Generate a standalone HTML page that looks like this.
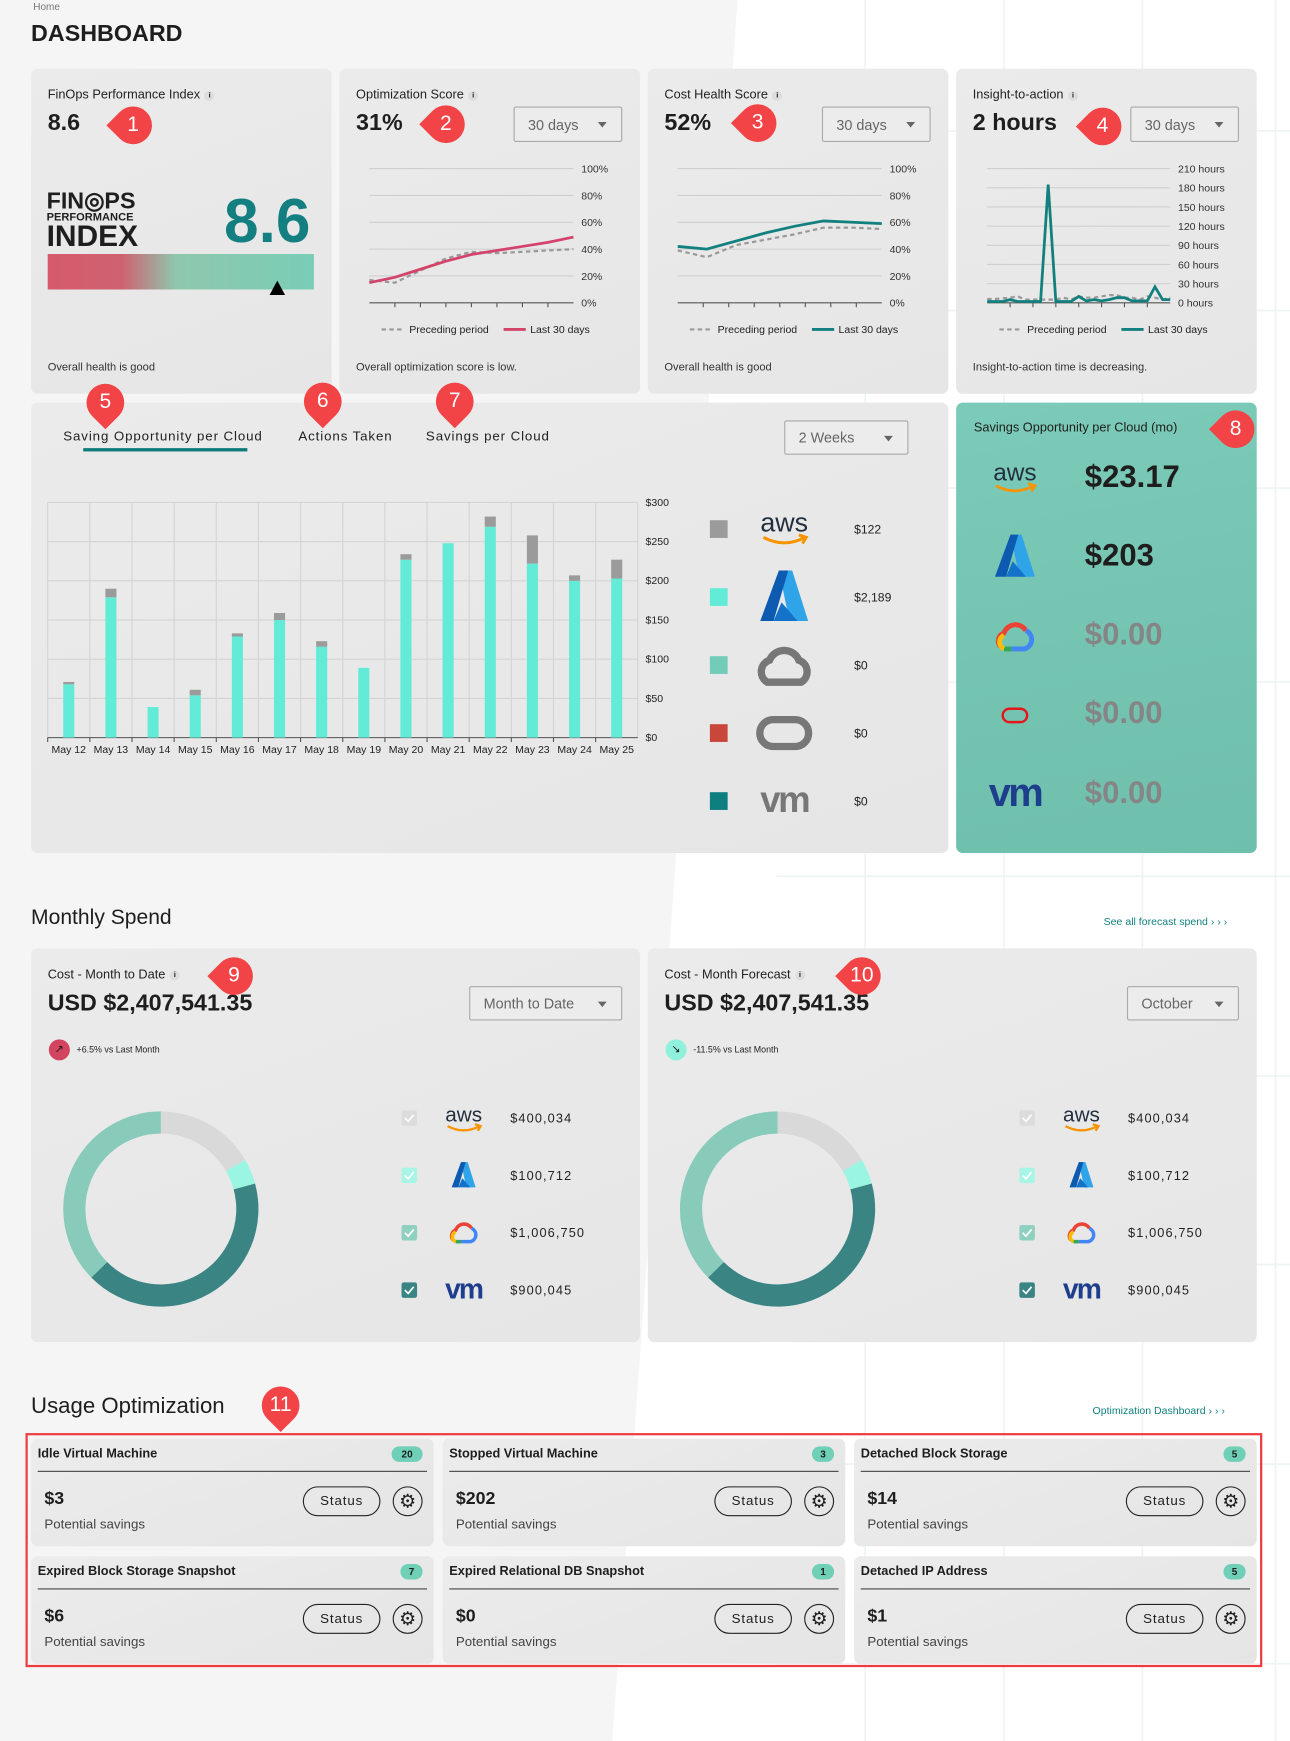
<!DOCTYPE html>
<html><head><meta charset="utf-8">
<style>
*{box-sizing:border-box;margin:0;padding:0}
html,body{width:1290px;height:1741px;overflow:hidden;background:#fff;font-family:"Liberation Sans",sans-serif;color:#1e1e1e}
#frame{position:absolute;left:0;top:0;width:1163px;height:1570px;transform:scale(1.1092);transform-origin:0 0}
.abs{position:absolute}
.card{position:absolute;background:linear-gradient(160deg,#ebebeb,#e6e6e6);border-radius:6px}
.t12{font-size:11.5px;color:#222}
.info{display:inline-block;width:9px;height:9px;border-radius:50%;background:#ddd;font-size:7px;text-align:center;line-height:9px;font-weight:bold;vertical-align:1px;margin-left:4px}
.big{font-size:21px;font-weight:bold}
.dd{position:absolute;border:1px solid #a9a9a9;border-radius:2px;font-size:13px;color:#666;padding-left:12px;display:flex;align-items:center;background:#ececec}
.dd:after{content:"";position:absolute;right:13px;top:50%;margin-top:-2px;border-left:4px solid transparent;border-right:4px solid transparent;border-top:5px solid #666}
.foot{position:absolute;font-size:10px;color:#333}
.mk{position:absolute;width:34px;height:34px;background:#f24447;border-radius:50% 50% 50% 0;color:#fff}
.mk span{position:absolute;left:0;top:0;width:34px;height:34px;line-height:34px;text-align:center;font-size:19px}
.ml{transform:rotate(45deg)}.ml span{transform:rotate(-45deg)}
.md{transform:rotate(-45deg)}.md span{transform:rotate(45deg)}
.tab{position:absolute;font-size:12px;letter-spacing:.8px;color:#222}
.tile{position:absolute;width:363px;height:97px;background:linear-gradient(160deg,#ececec,#e5e5e5);border-radius:6px}
.tile .tt{position:absolute;left:6px;top:8px;font-size:11.5px;font-weight:bold}
.tile .bd{position:absolute;top:7px;height:14px;border-radius:7px;background:#6fcfb7;font-size:9px;font-weight:bold;text-align:center;line-height:14px}
.tile .ln{position:absolute;left:6px;right:6px;top:29px;border-top:1px solid #444}
.tile .amt{position:absolute;left:12px;top:46px;font-size:16px;font-weight:bold}
.tile .ps{position:absolute;left:12px;top:70px;font-size:12px;color:#444}
.tile .st{position:absolute;right:48px;top:43px;width:70px;height:27px;border:1px solid #222;border-radius:14px;font-size:12px;text-align:center;line-height:25px;letter-spacing:.8px}
.tile .gr{position:absolute;right:10px;top:43px;width:27px;height:27px;border:1px solid #222;border-radius:50%;text-align:center;line-height:25px;font-size:17px}
</style></head><body>
<div id="frame">
<svg class="abs" style="left:0;top:0" width="1163" height="1570">
<rect width="1163" height="1570" fill="#fff"/>
<g stroke="#eef4f3" stroke-width="1.5">
<line x1="700" y1="118" x2="1163" y2="118"/><line x1="700" y1="280" x2="1163" y2="280"/><line x1="700" y1="440" x2="1163" y2="440"/><line x1="700" y1="615" x2="1163" y2="615"/><line x1="700" y1="790" x2="1163" y2="790"/><line x1="700" y1="970" x2="1163" y2="970"/><line x1="700" y1="1140" x2="1163" y2="1140"/><line x1="700" y1="1320" x2="1163" y2="1320"/><line x1="700" y1="1500" x2="1163" y2="1500"/>
<line x1="780" y1="0" x2="780" y2="1570"/><line x1="905" y1="0" x2="905" y2="1570"/><line x1="1030" y1="0" x2="1030" y2="1570"/><line x1="1150" y1="0" x2="1150" y2="1570"/>
</g>
<polygon points="0,0 665,0 552,1570 0,1570" fill="#f5f5f5"/>
</svg>

<div class="abs" style="left:30px;top:1px;font-size:9px;color:#777">Home</div>
<div class="abs" style="left:28px;top:19px;font-size:21px;font-weight:bold">DASHBOARD</div>

<div class="card" style="left:28px;top:62px;width:271px;height:293px">
 <div class="abs t12" style="left:15px;top:18px">FinOps Performance Index<span class="info">i</span></div>
 <div class="abs big" style="left:15px;top:37px">8.6</div>
 <div class="abs" style="left:14px;top:110px;font-weight:bold;line-height:.95"><div style="font-size:21px">FIN◎PS</div><div style="font-size:10px">PERFORMANCE</div><div style="font-size:27px">INDEX</div></div>
 <div class="abs" style="left:174px;top:104px;font-size:56px;font-weight:bold;color:#137f80">8.6</div>
 <div class="abs" style="left:15px;top:167px;width:240px;height:32px;background:linear-gradient(90deg,#d65a6b 0%,#ce6270 28%,#8fc7ae 48%,#79cdb6 100%)"></div>
 <div class="abs" style="left:215px;top:191px;border-left:7px solid transparent;border-right:7px solid transparent;border-bottom:13px solid #000"></div>
 <div class="foot" style="left:15px;top:264px">Overall health is good</div>
</div>

<div class="card" style="left:306px;top:62px;width:271px;height:293px">
 <div class="abs t12" style="left:15px;top:18px">Optimization Score<span class="info">i</span></div>
 <div class="abs big" style="left:15px;top:37px">31%</div>
 <div class="dd" style="left:157px;top:34px;width:98px;height:32px">30 days</div>
 <div class="foot" style="left:15px;top:264px">Overall optimization score is low.</div>
</div>

<div class="card" style="left:584px;top:62px;width:271px;height:293px">
 <div class="abs t12" style="left:15px;top:18px">Cost Health Score<span class="info">i</span></div>
 <div class="abs big" style="left:15px;top:37px">52%</div>
 <div class="dd" style="left:157px;top:34px;width:98px;height:32px">30 days</div>
 <div class="foot" style="left:15px;top:264px">Overall health is good</div>
</div>

<div class="card" style="left:862px;top:62px;width:271px;height:293px">
 <div class="abs t12" style="left:15px;top:18px">Insight-to-action<span class="info">i</span></div>
 <div class="abs big" style="left:15px;top:37px">2 hours</div>
 <div class="dd" style="left:157px;top:34px;width:98px;height:32px">30 days</div>
 <div class="foot" style="left:15px;top:264px">Insight-to-action time is decreasing.</div>
</div>

<svg id="lines" class="abs" style="left:0;top:0" width="1163" height="360"></svg>

<div class="card" style="left:28px;top:363px;width:827px;height:406px">
 <div class="tab" style="left:29px;top:23px">Saving Opportunity per Cloud</div>
 <div class="abs" style="left:47px;top:41px;width:148px;height:3px;background:#0f7c7c"></div>
 <div class="tab" style="left:241px;top:23px">Actions Taken</div>
 <div class="tab" style="left:356px;top:23px">Savings per Cloud</div>
 <div class="dd" style="left:679px;top:16px;width:112px;height:31px">2 Weeks</div>
</div>
<svg id="bars" class="abs" style="left:0;top:430px" width="860" height="330"></svg>

<div class="abs" style="left:862px;top:363px;width:271px;height:406px;background:linear-gradient(170deg,#7ccab8,#6fbfad);border-radius:6px">
 <div class="abs" style="left:16px;top:17px;font-size:11.5px">Savings Opportunity per Cloud (mo)</div>
 <div class="abs" style="left:116px;top:51px;font-size:28px;font-weight:bold">$23.17</div>
 <div class="abs" style="left:116px;top:122px;font-size:28px;font-weight:bold">$203</div>
 <div class="abs" style="left:116px;top:193px;font-size:28px;font-weight:bold;color:#858585">$0.00</div>
 <div class="abs" style="left:116px;top:264px;font-size:28px;font-weight:bold;color:#858585">$0.00</div>
 <div class="abs" style="left:116px;top:336px;font-size:28px;font-weight:bold;color:#858585">$0.00</div>
</div>

<div class="abs" style="left:28px;top:817px;font-size:19px">Monthly Spend</div>
<div class="abs" style="left:995px;top:826px;font-size:9.5px;color:#14807f">See all forecast spend › › ›</div>
<div class="card" style="left:28px;top:855px;width:549px;height:355px">
 <div class="abs t12" style="left:15px;top:18px">Cost - Month to Date<span class="info">i</span></div>
 <div class="abs" style="left:15px;top:38px;font-size:21px;font-weight:bold">USD $2,407,541.35</div>
 <div class="dd" style="left:395px;top:34px;width:138px;height:31px">Month to Date</div>
 <div class="abs" style="left:16px;top:82px;width:19px;height:19px;border-radius:50%;background:#d2445f;font-size:10px;text-align:center;line-height:19px">↗</div>
 <div class="abs" style="left:41px;top:87px;font-size:8px">+6.5% vs Last Month</div>
</div>
<div class="card" style="left:584px;top:855px;width:549px;height:355px">
 <div class="abs t12" style="left:15px;top:18px">Cost - Month Forecast<span class="info">i</span></div>
 <div class="abs" style="left:15px;top:38px;font-size:21px;font-weight:bold">USD $2,407,541.35</div>
 <div class="dd" style="left:432px;top:34px;width:101px;height:31px">October</div>
 <div class="abs" style="left:16px;top:82px;width:19px;height:19px;border-radius:50%;background:#8ff0dc;font-size:10px;text-align:center;line-height:19px">↘</div>
 <div class="abs" style="left:41px;top:87px;font-size:8px">-11.5% vs Last Month</div>
</div>
<svg id="donuts" class="abs" style="left:0;top:980px" width="1163" height="220"></svg>

<div class="abs" style="left:28px;top:1257px;font-size:20px">Usage Optimization</div>
<div class="abs" style="left:985px;top:1267px;font-size:9.5px;color:#14807f">Optimization Dashboard › › ›</div>
<div class="abs" style="left:23px;top:1292px;width:1115px;height:211px;border:2px solid #ef3b3f"></div>

<div class="tile" style="left:28px;top:1297px"><div class="tt">Idle Virtual Machine</div><div class="bd" style="right:10px;width:28px">20</div><div class="ln"></div><div class="amt">$3</div><div class="ps">Potential savings</div><div class="st">Status</div><div class="gr">⚙</div></div>
<div class="tile" style="left:399px;top:1297px"><div class="tt">Stopped Virtual Machine</div><div class="bd" style="right:10px;width:20px">3</div><div class="ln"></div><div class="amt">$202</div><div class="ps">Potential savings</div><div class="st">Status</div><div class="gr">⚙</div></div>
<div class="tile" style="left:770px;top:1297px"><div class="tt">Detached Block Storage</div><div class="bd" style="right:10px;width:20px">5</div><div class="ln"></div><div class="amt">$14</div><div class="ps">Potential savings</div><div class="st">Status</div><div class="gr">⚙</div></div>
<div class="tile" style="left:28px;top:1403px"><div class="tt">Expired Block Storage Snapshot</div><div class="bd" style="right:10px;width:20px">7</div><div class="ln"></div><div class="amt">$6</div><div class="ps">Potential savings</div><div class="st">Status</div><div class="gr">⚙</div></div>
<div class="tile" style="left:399px;top:1403px"><div class="tt">Expired Relational DB Snapshot</div><div class="bd" style="right:10px;width:20px">1</div><div class="ln"></div><div class="amt">$0</div><div class="ps">Potential savings</div><div class="st">Status</div><div class="gr">⚙</div></div>
<div class="tile" style="left:770px;top:1403px"><div class="tt">Detached IP Address</div><div class="bd" style="right:10px;width:20px">5</div><div class="ln"></div><div class="amt">$1</div><div class="ps">Potential savings</div><div class="st">Status</div><div class="gr">⚙</div></div>

<div class="mk ml" style="left:103px;top:96px"><span>1</span></div>
<div class="mk ml" style="left:385px;top:95px"><span>2</span></div>
<div class="mk ml" style="left:666px;top:94px"><span>3</span></div>
<div class="mk ml" style="left:977px;top:97px"><span>4</span></div>
<div class="mk md" style="left:78px;top:346px"><span>5</span></div>
<div class="mk md" style="left:274px;top:345px"><span>6</span></div>
<div class="mk md" style="left:393px;top:345px"><span>7</span></div>
<div class="mk ml" style="left:1097px;top:370px"><span>8</span></div>
<div class="mk ml" style="left:194px;top:863px"><span>9</span></div>
<div class="mk ml" style="left:760px;top:863px"><span>10</span></div>
<div class="mk md" style="left:236px;top:1250px"><span>11</span></div>
</div>

<script>
const NS="http://www.w3.org/2000/svg";
const optLast=[15,19,25,31,36,39,42,45,49];
const optPrev=[17,15,24,33,38,37,38,39,40];
const healthLast=[42,40,46,52,57,61,60,59];
const healthPrev=[39,34,43,47,51,56,56,55];
const insightLast=[2,2,2,5,2,2,2,2,185,2,2,2,10,3,5,3,5,8,8,3,3,3,25,5,5];
const insightPrev=[6,6,7,8,10,5,5,5,5,5,8,5,10,8,8,10,12,12,8,8,5,10,8,5,8];
const pctTicks=["100%","80%","60%","40%","20%","0%"];
const hourTicks=["210 hours","180 hours","150 hours","120 hours","90 hours","60 hours","30 hours","0 hours"];
const barDates=["May 12","May 13","May 14","May 15","May 16","May 17","May 18","May 19","May 20","May 21","May 22","May 23","May 24","May 25"];
const azureVals=[68,179,39,54,129,150,116,89,227,248,269,222,200,203];
const awsVals=[3,11,0,7,4,9,7,0,7,0,13,36,7,24];
const barTicks=["$300","$250","$200","$150","$100","$50","$0"];
const legendClouds=["aws","azure","gcp","oracle","vmware"];
const legendTotals=["$122","$2,189","$0","$0","$0"];
const spendClouds=["aws","azure","gcp","vmware"];
const spendVals=[400034,100712,1006750,900045];
const spendLabels=["$400,034","$100,712","$1,006,750","$900,045"];

function mk(parent,tag,attrs,text){const e=document.createElementNS(NS,tag);for(const k in attrs)e.setAttribute(k,attrs[k]);if(text!==undefined)e.textContent=text;parent.appendChild(e);return e;}

const L=document.getElementById('lines');
function lineChart(x0,x1,y0,y1,maxV,ticks,last,prev,col,name,legX){
  const g=mk(L,'g',{});
  
  
  const n=ticks.length;
  ticks.forEach((t,i)=>{const y=y1+(y0-y1)*i/(n-1);
    const gl=mk(g,'line',{x1:x0,x2:x1,y1:y,y2:y,stroke:i==n-1?'#555':'#cfcfcf','stroke-width':1});
    
    const tl=mk(g,'text',{x:x1+7,y:y+3.5,'font-size':9.5,fill:'#333'},t);
    });
  const sx=(i,len)=>x0+(x1-x0)*i/(len-1), sy=v=>y0-(y0-y1)*v/maxV;
  for(let i=1;i<8;i++){const x=x0+(x1-x0)*i/8;mk(g,'line',{x1:x,x2:x,y1:y0,y2:y0+4,stroke:'#555'});}
  const pp=prev.map((v,i)=>sx(i,prev.length)+','+sy(v)).join(' ');
  const p1=mk(g,'polyline',{points:pp,fill:'none',stroke:'#999','stroke-width':2,'stroke-dasharray':'4,3'});
  
  const lp=last.map((v,i)=>sx(i,last.length)+','+sy(v)).join(' ');
  const p2=mk(g,'polyline',{points:lp,fill:'none',stroke:col,'stroke-width':2.5});
  
  const cx=legX;
  mk(g,'line',{x1:cx-96,x2:cx-76,y1:297,y2:297,stroke:'#999','stroke-width':2,'stroke-dasharray':'4,3'});
  const a=mk(g,'text',{x:cx-71,y:300,'font-size':9.5,fill:'#222'},'Preceding period');
  mk(g,'line',{x1:cx+14,x2:cx+34,y1:297,y2:297,stroke:col,'stroke-width':2.5});
  const b=mk(g,'text',{x:cx+38,y:300,'font-size':9.5,fill:'#222'},'Last 30 days');
}
lineChart(333,517,273,152,100,pctTicks,optLast,optPrev,'#d4446a','optimization-line-chart',440);
lineChart(611,795,273,152,100,pctTicks,healthLast,healthPrev,'#11807e','cost-health-line-chart',718);
lineChart(890,1055,273,152,210,hourTicks,insightLast,insightPrev,'#11807e','insight-line-chart',997);

function logo(parent,kind,cx,cy,s,gray){
  const g=mk(parent,'g',{transform:`translate(${cx},${cy}) scale(${s})`});
  
  
  if(kind=='aws'){mk(g,'text',{x:0,y:0,'text-anchor':'middle','font-size':22,fill:gray?'#777':'#232f3e'},'aws');
    mk(g,'path',{d:'M-17,5 Q0,14 17,5 M12,3 L18,5 L15,10',fill:'none',stroke:'#f79400','stroke-width':2.5});}
  if(kind=='azure'){mk(g,'polygon',{points:'-4,-20 6,-20 18,18 4,18',fill:gray?'#6ec9f0':'#2fa4e8'});
    mk(g,'polygon',{points:'-4,-20 3,-20 -8,18 -18,18',fill:'#0c5bb0'});
    mk(g,'polygon',{points:'-2,4 10,18 -8,18',fill:'#1473c8'});}
  if(kind=='gcp'){if(gray){mk(g,'path',{d:'M-14,14 A10,10 0 0 1 -12,-4 A13,13 0 0 1 12,-4 A10,10 0 0 1 14,14 Z',fill:'none',stroke:'#777','stroke-width':6});}
    else{mk(g,'path',{d:'M-12,8 A7,7 0 0 1 -9,-3 A10,10 0 0 1 9,-5',fill:'none',stroke:'#ea4335','stroke-width':4});
      mk(g,'path',{d:'M9,-5 A8,8 0 0 1 8,10 L-3,10',fill:'none',stroke:'#4285f4','stroke-width':4});
      mk(g,'path',{d:'M-3,10 L-9,10',fill:'none',stroke:'#34a853','stroke-width':4});
      mk(g,'path',{d:'M-9,10 A6,6 0 0 1 -9,-1',fill:'none',stroke:'#fbbc05','stroke-width':4});}}
  if(kind=='oracle'){mk(g,'rect',{x:-20,y:-11,width:40,height:22,rx:11,fill:'none',stroke:gray?'#777':'#e3161b','stroke-width':gray?6:4});}
  if(kind=='vmware'){mk(g,'text',{x:0,y:9,'text-anchor':'middle','font-size':30,'font-weight':'bold','letter-spacing':-2,fill:gray?'#777':'#1d3e8c'},'vm');}
}

const B=document.getElementById('bars');
const bx0=43,bx1=575,by0=665-430,by1=453-430,bmax=300;
const xs=i=>bx0+(bx1-bx0)*(i+0.5)/barDates.length;
const ys=v=>by0-(by0-by1)*v/bmax;
barTicks.forEach((t,i)=>{const y=by1+(by0-by1)*i/(barTicks.length-1);
  const gl=mk(B,'line',{x1:bx0,x2:bx1,y1:y,y2:y,stroke:'#d4d4d4'});
  const tl=mk(B,'text',{x:582,y:y+3,'font-size':9.5,fill:'#222'},t);});
barDates.forEach((d,i)=>{const x=bx0+(bx1-bx0)*i/barDates.length;
  mk(B,'line',{x1:x,x2:x,y1:by1,y2:by0,stroke:'#d4d4d4'});
  mk(B,'line',{x1:x,x2:x,y1:by0,y2:by0+4,stroke:'#555'});
  const tl=mk(B,'text',{x:xs(i),y:by0+14,'font-size':9.5,'text-anchor':'middle',fill:'#222'},d);});
mk(B,'line',{x1:bx1,x2:bx1,y1:by1,y2:by0,stroke:'#d4d4d4'});
mk(B,'line',{x1:bx0,x2:bx1,y1:by0,y2:by0,stroke:'#555'});
barDates.forEach((d,i)=>{
  const r=mk(B,'rect',{x:xs(i)-5,y:ys(azureVals[i]),width:10,height:by0-ys(azureVals[i]),fill:'#62ecd8'});
  
  const r2=mk(B,'rect',{x:xs(i)-5,y:ys(azureVals[i]+awsVals[i]),width:10,height:ys(azureVals[i])-ys(azureVals[i]+awsVals[i]),fill:'#9b9b9b'});
  
});
const legCols=['#9b9b9b','#62ecd8','#73ccb8','#c9463a','#0e7e80'];
legendClouds.forEach((c,i)=>{const y=477+61.3*i-430;
  const sq=mk(B,'rect',{x:640,y:y-8,width:16,height:16,fill:legCols[i]});
  logo(B,c,707,y+(c=='aws'?2:0),c=='azure'?1.2:1.1,c!='aws'&&c!='azure');
  const t=mk(B,'text',{x:770,y:y+4,'font-size':11,fill:'#222'},legendTotals[i]);});

const P=mk(document.getElementById('frame'),'svg',{class:'abs',style:'left:862px;top:363px',width:100,height:406});


['aws','azure','gcp','oracle','vmware'].forEach((c,i)=>logo(P,c,53,[70,139,211,282,353][i],c=='oracle'?0.55:(c=='vmware'?1.2:(c=='gcp'?1.1:1)),false));

const D=document.getElementById('donuts');
const donCols=['#d9d9d9','#9af5e3','#3a8584','#88cbbb'];
const chkCols=['#dcdcdc','#a8f5e5','#8fd0c0','#3a8584'];
function donut(cx,cy,ro,ri,lx){
  const tot=spendVals.reduce((a,b)=>a+b,0);let a0=-Math.PI/2;
  spendVals.forEach((v,i)=>{const a1=a0+2*Math.PI*v/tot;const big=(a1-a0)>Math.PI?1:0;
    const p=`M${cx+ro*Math.cos(a0)},${cy+ro*Math.sin(a0)} A${ro},${ro} 0 ${big} 1 ${cx+ro*Math.cos(a1)},${cy+ro*Math.sin(a1)} L${cx+ri*Math.cos(a1)},${cy+ri*Math.sin(a1)} A${ri},${ri} 0 ${big} 0 ${cx+ri*Math.cos(a0)},${cy+ri*Math.sin(a0)} Z`;
    const s=mk(D,'path',{d:p,fill:donCols[i]});a0=a1;});
  spendClouds.forEach((c,i)=>{const y=1008+51.7*i-980;
    const r=mk(D,'rect',{x:lx,y:y-7,width:14,height:14,rx:2,fill:chkCols[i]});
    mk(D,'path',{d:`M${lx+3},${y} l3,3 l5,-6`,fill:'none',stroke:'#fff','stroke-width':1.5});
    logo(D,c,lx+56,y+(c=='aws'?3:0),c=='vmware'?0.85:(c=='azure'?0.6:(c=='gcp'?0.8:0.85)),false);
    const t=mk(D,'text',{x:lx+98,y:y+4,'font-size':11.5,'letter-spacing':1,fill:'#222'},spendLabels[i]);});
}
donut(145,110,88,68,362);
donut(701,110,88,68,919);
</script>
</body></html>
